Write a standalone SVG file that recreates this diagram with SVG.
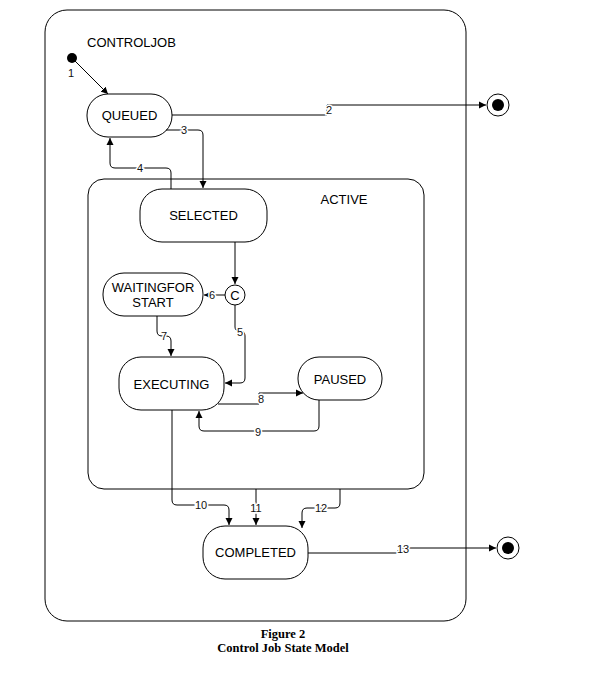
<svg xmlns="http://www.w3.org/2000/svg" width="599" height="675" viewBox="0 0 599 675">
<defs>
<marker id="ah" markerWidth="8" markerHeight="8" refX="7" refY="4" orient="auto" markerUnits="userSpaceOnUse">
<path d="M0,0.5 L7,4 L0,7.5 Z" fill="#000"/>
</marker>
</defs>
<style>
.box{fill:none;stroke:#000;stroke-width:1}
.st{fill:#fff;stroke:#000;stroke-width:1}
.t{font-family:"Liberation Sans",Arial,sans-serif;font-size:13px;fill:#000;text-anchor:middle}
.lbl{font-family:"Liberation Sans",Arial,sans-serif;font-size:11px;fill:#111;text-anchor:middle;stroke:#fff;stroke-width:3;paint-order:stroke}
.c{fill:none;stroke:#000;stroke-width:1;marker-end:url(#ah)}
.cap{font-family:"Liberation Serif","Times New Roman",serif;font-size:12.5px;font-weight:bold;text-anchor:middle;fill:#000}
</style>
<rect width="599" height="675" fill="#fff"/>
<g id="controljob">
<rect class="box" x="45" y="10" width="421" height="611" rx="22"/>
<text class="t" x="87" y="47" style="text-anchor:start">CONTROLJOB</text>
</g>
<g id="active">
<rect class="box" x="88" y="179" width="336" height="310" rx="16"/>
<text class="t" x="344" y="204">ACTIVE</text>
</g>
<g id="initial"><circle cx="72" cy="58" r="5" fill="#000"/></g>
<g id="queued"><rect class="st" x="87" y="94" width="85" height="43" rx="21"/><text class="t" x="129.5" y="120">QUEUED</text></g>
<g id="selected"><rect class="st" x="140" y="189" width="127" height="53" rx="22"/><text class="t" x="203.5" y="220">SELECTED</text></g>
<g id="choice"><circle class="st" cx="235" cy="295" r="10"/><text class="t" x="235" y="300">C</text></g>
<g id="waitingforstart"><rect class="st" x="103" y="273" width="100" height="43" rx="21"/><text class="t" x="153" y="292">WAITINGFOR</text><text class="t" x="153" y="307">START</text></g>
<g id="executing"><rect class="st" x="119" y="357" width="105" height="53" rx="22"/><text class="t" x="171.5" y="389">EXECUTING</text></g>
<g id="paused"><rect class="st" x="298" y="357" width="84" height="43" rx="21"/><text class="t" x="340" y="384">PAUSED</text></g>
<g id="completed"><rect class="st" x="203" y="526" width="105" height="53" rx="22"/><text class="t" x="255.5" y="557">COMPLETED</text></g>
<g id="final1"><circle class="st" cx="498" cy="105" r="11"/><circle cx="498" cy="105" r="6" fill="#000"/></g>
<g id="final2"><circle class="st" cx="508" cy="548" r="11"/><circle cx="508" cy="548" r="6" fill="#000"/></g>
<g id="connectors">
<path class="c" d="M72,58 L108,94"/>
<path class="c" d="M172,115 H327 V105 H486"/>
<path class="c" d="M166,130 H198 Q203,130 203,135 V188"/>
<path class="c" d="M171,189 V173 Q171,168 166,168 H115 Q110,168 110,163 V138"/>
<path class="c" d="M235,242 V284"/>
<path class="c" d="M225,295 H204"/>
<path class="c" d="M157,316 V331 Q157,336 162,336 H166 Q171,336 171,341 V356"/>
<path class="c" d="M235,305 V327 Q235,331 240,331 Q245,331 245,336 V378 Q245,383 240,383 H225"/>
<path class="c" d="M218,404 H259 V393 H303"/>
<path class="c" d="M319,400 V426 Q319,431 314,431 H204 Q199,431 199,426 V411"/>
<path class="c" d="M172,410 V500 Q172,505 177,505 H224 Q229,505 229,510 V525"/>
<path class="c" d="M256,489 V525"/>
<path class="c" d="M340,489 V503 Q340,508 335,508 H307 Q302,508 302,513 V528"/>
<path class="c" d="M308,553 H398 V548 H496"/>
<text class="lbl" x="71" y="77">1</text>
<text class="lbl" x="329" y="114">2</text>
<text class="lbl" x="184" y="134">3</text>
<text class="lbl" x="140" y="172">4</text>
<text class="lbl" x="240" y="336">5</text>
<text class="lbl" x="212" y="299">6</text>
<text class="lbl" x="164" y="340">7</text>
<text class="lbl" x="261" y="403">8</text>
<text class="lbl" x="258" y="436">9</text>
<text class="lbl" x="201" y="509">10</text>
<text class="lbl" x="256" y="512">11</text>
<text class="lbl" x="321" y="512">12</text>
<text class="lbl" x="403" y="553">13</text>
</g>
<g id="caption">
<text class="cap" x="283" y="638">Figure 2</text>
<text class="cap" x="283" y="652">Control Job State Model</text>
</g>
</svg>
